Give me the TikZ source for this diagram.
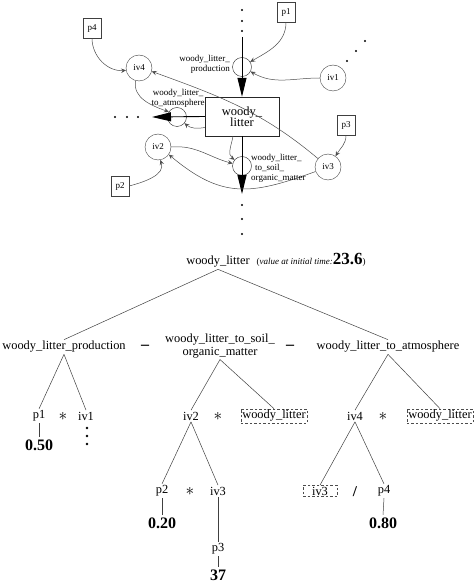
\documentclass[tikz,border=0pt]{standalone}
\usepackage{fontspec}
\setmainfont{Liberation Serif}
\usetikzlibrary{arrows.meta}
\begin{document}
\begin{tikzpicture}[x=1pt,y=-1pt,
  lab/.style={font=\fontsize{9}{10}\selectfont, inner sep=0pt, align=center},
  aux/.style={circle, draw=black!75, minimum size=26pt, inner sep=0pt, font=\fontsize{9}{10}\selectfont},
  param/.style={draw=black!75, minimum width=18pt, minimum height=20pt, inner sep=0pt, font=\fontsize{9}{10}\selectfont},
  valve/.style={circle, draw=black!85, minimum size=19pt, inner sep=0pt},
  stock/.style={draw=black!85, minimum width=74pt, minimum height=39pt, inner sep=0pt, align=center, font=\fontsize{12.5}{11.5}\selectfont},
  flowline/.style={draw=black, line width=0.9pt, -{Triangle[length=19pt,width=9pt]}},
  link/.style={draw=black!70, line width=0.5pt, -{Stealth[length=5pt,width=4.5pt,inset=2pt]}},
  dot/.style={circle, fill=black, inner sep=0pt, minimum size=2.4pt},
  tt/.style={font=\fontsize{12.4}{12.4}\selectfont, inner sep=1.5pt, align=center},
  num/.style={font=\bfseries\fontsize{16}{16}\selectfont, inner sep=2.5pt},
  op/.style={font=\fontsize{17}{17}\selectfont, inner sep=0pt},
  minus/.style={font=\bfseries\fontsize{16}{16}\selectfont, inner sep=0pt},
  dbox/.style={tt, draw=black!70, dash pattern=on 2.5pt off 2pt, inner sep=1.5pt},
  tline/.style={draw=black!75, line width=0.5pt}
]
\useasboundingbox (0,0) rectangle (474,585);

% ---------- stock and flow diagram ----------
\node[valve] (vprod) at (242,67) {};
\node[stock] (stock) at (242,116.5) {woody\_\\litter};
\node[valve] (vatm) at (177,117) {};
\node[valve] (vsoil) at (242,166) {};
\coordinate (ftop) at (242,37);
\coordinate (fleft) at (152,117);
\coordinate (fbot) at (242,194);

\draw[flowline] (ftop) -- (stock.north);
\draw[flowline] (stock.west) -- (fleft);
\draw[flowline] (stock.south) -- (fbot);

\node[dot] (dt1) at (242,10) {};
\node[dot] (dt2) at (242,21) {};
\node[dot] (dt3) at (242,31) {};
\node[dot] (dl1) at (115,117) {};
\node[dot] (dl2) at (127,117) {};
\node[dot] (dl3) at (138,117) {};
\node[dot] (db1) at (242,205) {};
\node[dot] (db2) at (242,219) {};
\node[dot] (db3) at (242,234) {};
\node[dot] (dr1) at (347,61) {};
\node[dot] (dr2) at (356,51) {};
\node[dot] (dr3) at (365,41) {};

\node[param] (p1) at (286,12) {p1};
\node[param] (p4) at (92,28) {p4};
\node[param] (p3) at (346,125) {p3};
\node[param] (p2) at (120,186) {p2};
\node[aux] (iv1) at (333,78) {iv1};
\node[aux] (iv4) at (139,68) {iv4};
\node[aux] (iv2) at (158,147) {iv2};
\node[aux] (iv3) at (328,167) {iv3};

\draw[link] (p1.south) to[out=-90,in=30] (vprod.32);
\draw[link] (iv1.west) to[out=180,in=-30] (vprod.-28);
\draw[link] (p4.south) to[out=-90,in=185] (iv4.190);
\draw[link] (iv4.-105) to[out=-100,in=160] (vatm.148);
\draw[link] (iv3.140) to[out=140,in=-20] (iv4.-15);
\draw[link] ([yshift=-11pt]stock.west) to[out=190,in=-40] (vatm.-40);
\draw[link] ([xshift=-9pt]stock.south) to[out=-100,in=145] (vsoil.140);
\draw[link] (iv2.east) to[out=5,in=165] (vsoil.165);
\draw[link] (iv3.200) to[out=200,in=-40,looseness=1.2] (iv2.-35);
\draw[link] (p2.east) to[out=15,in=-70] (iv2.-80);
\draw[link] (p3.south) to[out=-90,in=60] (iv3.55);

\node[lab, align=right, anchor=east] (lprod) at (230,64) {woody\_litter\_\\production};
\node[lab] (latm) at (178,98) {woody\_litter\_\\to\_atmosphere};
\node[lab, align=left, anchor=west] (lsoil) at (251,168) {woody\_litter\_\\\hspace*{4pt}to\_soil\_\\organic\_matter};

% ---------- expression tree ----------
\node[tt] (root) at (218,262) {woody\_litter};
\node[anchor=base west, inner sep=0pt, font=\fontsize{9}{9}\selectfont] (rootval) at ([xshift=5pt]root.base east) {(\textit{value at initial time:}{\bfseries\fontsize{17}{17}\selectfont 23.6})};

\node[tt] (prod) at (64,347) {woody\_litter\_production};
\node[minus] (m1) at (145,347) {--};
\node[tt] (soil) at (220,346) {woody\_litter\_to\_soil\_\\organic\_matter};
\node[minus] (m2) at (290,347) {--};
\node[tt] (atm) at (388,347) {woody\_litter\_to\_atmosphere};

\node[tt] (tp1) at (39,416) {p1};
\node[op] (s1) at (63,416) {$\ast$};
\node[tt] (tiv1) at (86,416) {iv1};
\node[tt] (tiv2) at (191,416) {iv2};
\node[op] (s2) at (218,416) {$\ast$};
\node[dbox] (twl1) at (274,416) {woody\_litter};
\node[tt] (tiv4) at (355,416) {iv4};
\node[op] (s3) at (383,416) {$\ast$};
\node[dbox] (twl2) at (440,416) {woody\_litter};

\node[dot, minimum size=2.6pt] (e1) at (87,428) {};
\node[dot, minimum size=2.6pt] (e2) at (87,436) {};
\node[dot, minimum size=2.6pt] (e3) at (87,444) {};

\node[tt] (tp2) at (162,491) {p2};
\node[op] (s4) at (190,491) {$\ast$};
\node[tt] (tiv3) at (218,491) {iv3};
\node[dbox, minimum width=34pt] (tiv3b) at (320,491) {iv3};
\node[op, font=\bfseries\fontsize{15}{15}\selectfont] (sl) at (355,492) {/};
\node[tt] (tp4) at (384,491) {p4};

\node[num] (n050) at (39,445) {0.50};
\node[num] (n020) at (162,523) {0.20};
\node[num] (n080) at (383,523) {0.80};
\node[tt] (tp3) at (218,549) {p3};
\node[num] (n37) at (218,575) {37};

\draw[tline] (root.south) -- (prod.north);
\draw[tline] (root.south) -- (atm.north);
\draw[tline] (prod.south) -- (tp1.north);
\draw[tline] (prod.south) -- (tiv1.north);
\draw[tline] (soil.south) -- (tiv2.north);
\draw[tline] (soil.south) -- (twl1.north);
\draw[tline] (atm.south) -- (tiv4.north);
\draw[tline] (atm.south) -- (twl2.north);
\draw[tline] (tiv2.south) -- (tp2.north);
\draw[tline] (tiv2.south) -- (tiv3.north);
\draw[tline] (tiv4.south) -- (tiv3b.north);
\draw[tline] (tiv4.south) -- (tp4.north);
\draw[tline] (tp1.south) -- (n050.north);
\draw[tline] (tp2.south) -- (n020.north);
\draw[tline] (tp4.south) -- (n080.north);
\draw[tline] (tiv3.south) -- (tp3.north);
\draw[tline] (tp3.south) -- (n37.north);
\end{tikzpicture}
\end{document}
